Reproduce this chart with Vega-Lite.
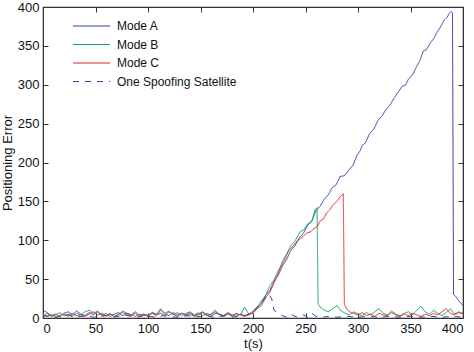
{
  "$schema": "https://vega.github.io/schema/vega-lite/v6.json",
  "width": 420,
  "height": 311,
  "autosize": {"type": "none"},
  "padding": {"left": 43, "top": 7, "right": 11, "bottom": 34},
  "background": "white",
  "config": {
    "font": "Liberation Sans",
    "view": {"stroke": "#333333", "strokeWidth": 1.2},
    "axis": {
      "labelFont": "Liberation Sans", "titleFont": "Liberation Sans",
      "labelFontSize": 13, "titleFontSize": 13, "titleFontWeight": "normal",
      "labelColor": "#111", "titleColor": "#111",
      "domainColor": "#333", "tickColor": "#333",
      "tickSize": -5, "labelPadding": 9, "grid": false
    }
  },
  "data": {"values": [
    {"t":0,"s":"Mode A","e":10},{"t":4,"s":"Mode A","e":7},{"t":8,"s":"Mode A","e":3},{"t":12,"s":"Mode A","e":5},{"t":16,"s":"Mode A","e":2},{"t":20,"s":"Mode A","e":6},{"t":24,"s":"Mode A","e":8},{"t":28,"s":"Mode A","e":4},{"t":32,"s":"Mode A","e":9},{"t":36,"s":"Mode A","e":5},{"t":40,"s":"Mode A","e":3},{"t":44,"s":"Mode A","e":7},{"t":48,"s":"Mode A","e":4},{"t":52,"s":"Mode A","e":8},{"t":56,"s":"Mode A","e":3},{"t":60,"s":"Mode A","e":6},{"t":64,"s":"Mode A","e":2},{"t":68,"s":"Mode A","e":5},{"t":72,"s":"Mode A","e":7},{"t":76,"s":"Mode A","e":3},{"t":80,"s":"Mode A","e":6},{"t":84,"s":"Mode A","e":4},{"t":88,"s":"Mode A","e":8},{"t":92,"s":"Mode A","e":3},{"t":96,"s":"Mode A","e":5},{"t":100,"s":"Mode A","e":2},{"t":104,"s":"Mode A","e":7},{"t":108,"s":"Mode A","e":4},{"t":112,"s":"Mode A","e":6},{"t":116,"s":"Mode A","e":3},{"t":120,"s":"Mode A","e":8},{"t":124,"s":"Mode A","e":5},{"t":128,"s":"Mode A","e":2},{"t":132,"s":"Mode A","e":6},{"t":136,"s":"Mode A","e":4},{"t":140,"s":"Mode A","e":7},{"t":144,"s":"Mode A","e":3},{"t":148,"s":"Mode A","e":5},{"t":152,"s":"Mode A","e":8},{"t":156,"s":"Mode A","e":4},{"t":160,"s":"Mode A","e":2},{"t":164,"s":"Mode A","e":6},{"t":168,"s":"Mode A","e":5},{"t":172,"s":"Mode A","e":3},{"t":176,"s":"Mode A","e":7},{"t":180,"s":"Mode A","e":4},{"t":184,"s":"Mode A","e":2},{"t":188,"s":"Mode A","e":5},{"t":192,"s":"Mode A","e":3},{"t":196,"s":"Mode A","e":4},{"t":200,"s":"Mode A","e":7},{"t":204,"s":"Mode A","e":13},{"t":208,"s":"Mode A","e":19},{"t":212,"s":"Mode A","e":29},{"t":216,"s":"Mode A","e":35},{"t":220,"s":"Mode A","e":47},{"t":224,"s":"Mode A","e":55},{"t":228,"s":"Mode A","e":67},{"t":232,"s":"Mode A","e":75},{"t":236,"s":"Mode A","e":87},{"t":240,"s":"Mode A","e":93},{"t":244,"s":"Mode A","e":103},{"t":248,"s":"Mode A","e":109},{"t":252,"s":"Mode A","e":119},{"t":256,"s":"Mode A","e":125},{"t":260,"s":"Mode A","e":138},{"t":262,"s":"Mode A","e":141},{"t":264,"s":"Mode A","e":144},{"t":268,"s":"Mode A","e":153},{"t":272,"s":"Mode A","e":159},{"t":275,"s":"Mode A","e":167},{"t":279,"s":"Mode A","e":171},{"t":283,"s":"Mode A","e":182},{"t":287,"s":"Mode A","e":183},{"t":291,"s":"Mode A","e":190},{"t":295,"s":"Mode A","e":196},{"t":299,"s":"Mode A","e":209},{"t":302,"s":"Mode A","e":215},{"t":304,"s":"Mode A","e":222},{"t":307,"s":"Mode A","e":225},{"t":311,"s":"Mode A","e":237},{"t":315,"s":"Mode A","e":243},{"t":319,"s":"Mode A","e":254},{"t":323,"s":"Mode A","e":260},{"t":327,"s":"Mode A","e":269},{"t":330,"s":"Mode A","e":273},{"t":334,"s":"Mode A","e":282},{"t":338,"s":"Mode A","e":290},{"t":342,"s":"Mode A","e":298},{"t":345,"s":"Mode A","e":299},{"t":348,"s":"Mode A","e":307},{"t":352,"s":"Mode A","e":313},{"t":356,"s":"Mode A","e":324},{"t":359,"s":"Mode A","e":331},{"t":362,"s":"Mode A","e":343},{"t":365,"s":"Mode A","e":345},{"t":369,"s":"Mode A","e":354},{"t":372,"s":"Mode A","e":359},{"t":375,"s":"Mode A","e":367},{"t":378,"s":"Mode A","e":373},{"t":382,"s":"Mode A","e":383},{"t":385,"s":"Mode A","e":387},{"t":387,"s":"Mode A","e":392},{"t":389,"s":"Mode A","e":394},{"t":390,"s":"Mode A","e":392},{"t":391,"s":"Mode A","e":30},{"t":393,"s":"Mode A","e":28},{"t":396,"s":"Mode A","e":22},{"t":400,"s":"Mode A","e":16},

    {"t":0,"s":"Mode B","e":3},{"t":4,"s":"Mode B","e":6},{"t":8,"s":"Mode B","e":2},{"t":12,"s":"Mode B","e":4},{"t":16,"s":"Mode B","e":7},{"t":20,"s":"Mode B","e":3},{"t":24,"s":"Mode B","e":5},{"t":28,"s":"Mode B","e":2},{"t":32,"s":"Mode B","e":6},{"t":36,"s":"Mode B","e":4},{"t":40,"s":"Mode B","e":8},{"t":44,"s":"Mode B","e":10},{"t":48,"s":"Mode B","e":6},{"t":52,"s":"Mode B","e":9},{"t":56,"s":"Mode B","e":4},{"t":60,"s":"Mode B","e":3},{"t":64,"s":"Mode B","e":6},{"t":68,"s":"Mode B","e":2},{"t":72,"s":"Mode B","e":5},{"t":76,"s":"Mode B","e":7},{"t":80,"s":"Mode B","e":4},{"t":84,"s":"Mode B","e":3},{"t":88,"s":"Mode B","e":6},{"t":92,"s":"Mode B","e":2},{"t":96,"s":"Mode B","e":5},{"t":100,"s":"Mode B","e":3},{"t":104,"s":"Mode B","e":7},{"t":108,"s":"Mode B","e":5},{"t":112,"s":"Mode B","e":12},{"t":116,"s":"Mode B","e":6},{"t":120,"s":"Mode B","e":9},{"t":124,"s":"Mode B","e":4},{"t":128,"s":"Mode B","e":7},{"t":132,"s":"Mode B","e":3},{"t":136,"s":"Mode B","e":6},{"t":140,"s":"Mode B","e":8},{"t":144,"s":"Mode B","e":4},{"t":148,"s":"Mode B","e":7},{"t":152,"s":"Mode B","e":3},{"t":156,"s":"Mode B","e":6},{"t":160,"s":"Mode B","e":4},{"t":164,"s":"Mode B","e":8},{"t":168,"s":"Mode B","e":5},{"t":172,"s":"Mode B","e":3},{"t":176,"s":"Mode B","e":6},{"t":180,"s":"Mode B","e":2},{"t":184,"s":"Mode B","e":5},{"t":188,"s":"Mode B","e":4},{"t":192,"s":"Mode B","e":14},{"t":196,"s":"Mode B","e":5},{"t":200,"s":"Mode B","e":9},{"t":204,"s":"Mode B","e":14},{"t":208,"s":"Mode B","e":22},{"t":212,"s":"Mode B","e":29},{"t":216,"s":"Mode B","e":41},{"t":220,"s":"Mode B","e":49},{"t":224,"s":"Mode B","e":61},{"t":226,"s":"Mode B","e":65},{"t":228,"s":"Mode B","e":73},{"t":232,"s":"Mode B","e":82},{"t":236,"s":"Mode B","e":93},{"t":240,"s":"Mode B","e":99},{"t":245,"s":"Mode B","e":111},{"t":248,"s":"Mode B","e":113},{"t":252,"s":"Mode B","e":121},{"t":256,"s":"Mode B","e":124},{"t":259,"s":"Mode B","e":139},{"t":261,"s":"Mode B","e":142},{"t":262,"s":"Mode B","e":18},{"t":264,"s":"Mode B","e":14},{"t":268,"s":"Mode B","e":10},{"t":272,"s":"Mode B","e":8},{"t":276,"s":"Mode B","e":12},{"t":280,"s":"Mode B","e":16},{"t":284,"s":"Mode B","e":9},{"t":288,"s":"Mode B","e":6},{"t":292,"s":"Mode B","e":4},{"t":296,"s":"Mode B","e":8},{"t":300,"s":"Mode B","e":5},{"t":304,"s":"Mode B","e":3},{"t":308,"s":"Mode B","e":7},{"t":312,"s":"Mode B","e":4},{"t":316,"s":"Mode B","e":8},{"t":320,"s":"Mode B","e":12},{"t":324,"s":"Mode B","e":6},{"t":328,"s":"Mode B","e":4},{"t":332,"s":"Mode B","e":9},{"t":336,"s":"Mode B","e":5},{"t":340,"s":"Mode B","e":3},{"t":344,"s":"Mode B","e":6},{"t":348,"s":"Mode B","e":8},{"t":352,"s":"Mode B","e":4},{"t":356,"s":"Mode B","e":10},{"t":360,"s":"Mode B","e":15},{"t":364,"s":"Mode B","e":8},{"t":368,"s":"Mode B","e":5},{"t":372,"s":"Mode B","e":10},{"t":376,"s":"Mode B","e":6},{"t":380,"s":"Mode B","e":3},{"t":384,"s":"Mode B","e":7},{"t":388,"s":"Mode B","e":12},{"t":392,"s":"Mode B","e":5},{"t":396,"s":"Mode B","e":8},{"t":400,"s":"Mode B","e":6},

    {"t":0,"s":"Mode C","e":5},{"t":4,"s":"Mode C","e":2},{"t":8,"s":"Mode C","e":4},{"t":12,"s":"Mode C","e":1},{"t":16,"s":"Mode C","e":3},{"t":20,"s":"Mode C","e":5},{"t":24,"s":"Mode C","e":2},{"t":28,"s":"Mode C","e":6},{"t":32,"s":"Mode C","e":3},{"t":36,"s":"Mode C","e":4},{"t":40,"s":"Mode C","e":2},{"t":44,"s":"Mode C","e":5},{"t":48,"s":"Mode C","e":8},{"t":52,"s":"Mode C","e":4},{"t":56,"s":"Mode C","e":6},{"t":60,"s":"Mode C","e":3},{"t":64,"s":"Mode C","e":5},{"t":68,"s":"Mode C","e":2},{"t":72,"s":"Mode C","e":4},{"t":76,"s":"Mode C","e":9},{"t":80,"s":"Mode C","e":6},{"t":84,"s":"Mode C","e":4},{"t":88,"s":"Mode C","e":2},{"t":92,"s":"Mode C","e":5},{"t":96,"s":"Mode C","e":3},{"t":100,"s":"Mode C","e":4},{"t":104,"s":"Mode C","e":6},{"t":108,"s":"Mode C","e":3},{"t":112,"s":"Mode C","e":10},{"t":116,"s":"Mode C","e":5},{"t":120,"s":"Mode C","e":3},{"t":124,"s":"Mode C","e":7},{"t":128,"s":"Mode C","e":4},{"t":132,"s":"Mode C","e":6},{"t":136,"s":"Mode C","e":3},{"t":140,"s":"Mode C","e":5},{"t":144,"s":"Mode C","e":2},{"t":148,"s":"Mode C","e":4},{"t":152,"s":"Mode C","e":7},{"t":156,"s":"Mode C","e":3},{"t":160,"s":"Mode C","e":5},{"t":164,"s":"Mode C","e":10},{"t":168,"s":"Mode C","e":4},{"t":172,"s":"Mode C","e":2},{"t":176,"s":"Mode C","e":5},{"t":180,"s":"Mode C","e":3},{"t":184,"s":"Mode C","e":6},{"t":188,"s":"Mode C","e":4},{"t":192,"s":"Mode C","e":2},{"t":196,"s":"Mode C","e":5},{"t":200,"s":"Mode C","e":6},{"t":204,"s":"Mode C","e":12},{"t":208,"s":"Mode C","e":16},{"t":212,"s":"Mode C","e":26},{"t":216,"s":"Mode C","e":33},{"t":220,"s":"Mode C","e":45},{"t":223,"s":"Mode C","e":54},{"t":226,"s":"Mode C","e":65},{"t":230,"s":"Mode C","e":74},{"t":234,"s":"Mode C","e":87},{"t":238,"s":"Mode C","e":92},{"t":242,"s":"Mode C","e":99},{"t":246,"s":"Mode C","e":103},{"t":251,"s":"Mode C","e":109},{"t":255,"s":"Mode C","e":111},{"t":258,"s":"Mode C","e":115},{"t":261,"s":"Mode C","e":117},{"t":264,"s":"Mode C","e":125},{"t":267,"s":"Mode C","e":127},{"t":270,"s":"Mode C","e":135},{"t":273,"s":"Mode C","e":139},{"t":276,"s":"Mode C","e":145},{"t":280,"s":"Mode C","e":150},{"t":283,"s":"Mode C","e":156},{"t":285,"s":"Mode C","e":158},{"t":286,"s":"Mode C","e":160},{"t":287,"s":"Mode C","e":18},{"t":289,"s":"Mode C","e":12},{"t":292,"s":"Mode C","e":8},{"t":296,"s":"Mode C","e":6},{"t":300,"s":"Mode C","e":4},{"t":304,"s":"Mode C","e":7},{"t":308,"s":"Mode C","e":3},{"t":312,"s":"Mode C","e":5},{"t":316,"s":"Mode C","e":2},{"t":320,"s":"Mode C","e":6},{"t":324,"s":"Mode C","e":4},{"t":328,"s":"Mode C","e":3},{"t":332,"s":"Mode C","e":7},{"t":336,"s":"Mode C","e":4},{"t":340,"s":"Mode C","e":2},{"t":344,"s":"Mode C","e":5},{"t":348,"s":"Mode C","e":3},{"t":352,"s":"Mode C","e":6},{"t":356,"s":"Mode C","e":4},{"t":360,"s":"Mode C","e":2},{"t":364,"s":"Mode C","e":5},{"t":368,"s":"Mode C","e":3},{"t":372,"s":"Mode C","e":6},{"t":376,"s":"Mode C","e":4},{"t":380,"s":"Mode C","e":8},{"t":384,"s":"Mode C","e":12},{"t":388,"s":"Mode C","e":6},{"t":392,"s":"Mode C","e":4},{"t":396,"s":"Mode C","e":7},{"t":400,"s":"Mode C","e":5},

    {"t":0,"s":"One Spoofing Satellite","e":2},{"t":6,"s":"One Spoofing Satellite","e":3},{"t":12,"s":"One Spoofing Satellite","e":1},{"t":18,"s":"One Spoofing Satellite","e":2},{"t":24,"s":"One Spoofing Satellite","e":4},{"t":30,"s":"One Spoofing Satellite","e":1},{"t":36,"s":"One Spoofing Satellite","e":2},{"t":42,"s":"One Spoofing Satellite","e":3},{"t":48,"s":"One Spoofing Satellite","e":1},{"t":54,"s":"One Spoofing Satellite","e":2},{"t":60,"s":"One Spoofing Satellite","e":3},{"t":66,"s":"One Spoofing Satellite","e":1},{"t":72,"s":"One Spoofing Satellite","e":2},{"t":78,"s":"One Spoofing Satellite","e":4},{"t":84,"s":"One Spoofing Satellite","e":2},{"t":90,"s":"One Spoofing Satellite","e":1},{"t":96,"s":"One Spoofing Satellite","e":3},{"t":102,"s":"One Spoofing Satellite","e":2},{"t":108,"s":"One Spoofing Satellite","e":1},{"t":114,"s":"One Spoofing Satellite","e":3},{"t":120,"s":"One Spoofing Satellite","e":2},{"t":126,"s":"One Spoofing Satellite","e":1},{"t":132,"s":"One Spoofing Satellite","e":2},{"t":138,"s":"One Spoofing Satellite","e":3},{"t":144,"s":"One Spoofing Satellite","e":1},{"t":150,"s":"One Spoofing Satellite","e":2},{"t":156,"s":"One Spoofing Satellite","e":3},{"t":162,"s":"One Spoofing Satellite","e":1},{"t":168,"s":"One Spoofing Satellite","e":2},{"t":174,"s":"One Spoofing Satellite","e":3},{"t":180,"s":"One Spoofing Satellite","e":1},{"t":186,"s":"One Spoofing Satellite","e":2},{"t":192,"s":"One Spoofing Satellite","e":3},{"t":196,"s":"One Spoofing Satellite","e":5},{"t":200,"s":"One Spoofing Satellite","e":9},{"t":204,"s":"One Spoofing Satellite","e":14},{"t":208,"s":"One Spoofing Satellite","e":20},{"t":212,"s":"One Spoofing Satellite","e":26},{"t":215,"s":"One Spoofing Satellite","e":31},{"t":218,"s":"One Spoofing Satellite","e":24},{"t":220,"s":"One Spoofing Satellite","e":10},{"t":224,"s":"One Spoofing Satellite","e":6},{"t":228,"s":"One Spoofing Satellite","e":3},{"t":232,"s":"One Spoofing Satellite","e":1},{"t":236,"s":"One Spoofing Satellite","e":5},{"t":240,"s":"One Spoofing Satellite","e":2},{"t":244,"s":"One Spoofing Satellite","e":1},{"t":248,"s":"One Spoofing Satellite","e":4},{"t":252,"s":"One Spoofing Satellite","e":1},{"t":256,"s":"One Spoofing Satellite","e":6},{"t":260,"s":"One Spoofing Satellite","e":2},{"t":266,"s":"One Spoofing Satellite","e":1},{"t":272,"s":"One Spoofing Satellite","e":2},{"t":280,"s":"One Spoofing Satellite","e":1},{"t":290,"s":"One Spoofing Satellite","e":2},{"t":300,"s":"One Spoofing Satellite","e":1},{"t":310,"s":"One Spoofing Satellite","e":2},{"t":320,"s":"One Spoofing Satellite","e":1},{"t":330,"s":"One Spoofing Satellite","e":2},{"t":340,"s":"One Spoofing Satellite","e":1},{"t":350,"s":"One Spoofing Satellite","e":2},{"t":360,"s":"One Spoofing Satellite","e":1},{"t":370,"s":"One Spoofing Satellite","e":2},{"t":380,"s":"One Spoofing Satellite","e":1},{"t":390,"s":"One Spoofing Satellite","e":2},{"t":400,"s":"One Spoofing Satellite","e":1}
  ]},
  "layer": [
    {
      "mark": {"type": "line", "strokeWidth": 1, "clip": true},
      "encoding": {
        "x": {"field": "t", "type": "quantitative", "scale": {"domain": [0, 400], "nice": false},
              "axis": {"values": [0,50,100,150,200,250,300,350,400], "title": "t(s)", "titlePadding": 2}},
        "y": {"field": "e", "type": "quantitative", "scale": {"domain": [0, 400], "nice": false},
              "axis": {"values": [0,50,100,150,200,250,300,350,400], "title": "Positioning Error", "titlePadding": 3}},
        "color": {"field": "s", "type": "nominal",
          "scale": {"domain": ["Mode A","Mode B","Mode C","One Spoofing Satellite"],
                    "range": ["#2f46a0","#13a060","#e8252d","#2f46a0"]},
          "legend": {"title": null, "orient": "none", "legendX": 29, "legendY": 11,
                     "symbolType": "stroke", "symbolSize": 1369, "symbolStrokeWidth": 1.2,
                     "labelFontSize": 12, "labelFont": "Liberation Sans", "labelColor": "#111",
                     "labelOffset": 6, "clipHeight": 16, "rowPadding": 2.5, "padding": 0}},
        "strokeDash": {"field": "s", "type": "nominal",
          "scale": {"domain": ["Mode A","Mode B","Mode C","One Spoofing Satellite"],
                    "range": [[1,0],[1,0],[1,0],[6,6]]},
          "legend": null}
      }
    },
    {
      "mark": {"type": "point", "opacity": 0},
      "encoding": {
        "x": {"field": "t", "type": "quantitative",
              "axis": {"orient": "top", "values": [0,50,100,150,200,250,300,350,400], "labels": false, "title": null}},
        "y": {"field": "e", "type": "quantitative",
              "axis": {"orient": "right", "values": [0,50,100,150,200,250,300,350,400], "labels": false, "title": null}}
      }
    }
  ],
  "resolve": {"axis": {"x": "independent", "y": "independent"}}
}
